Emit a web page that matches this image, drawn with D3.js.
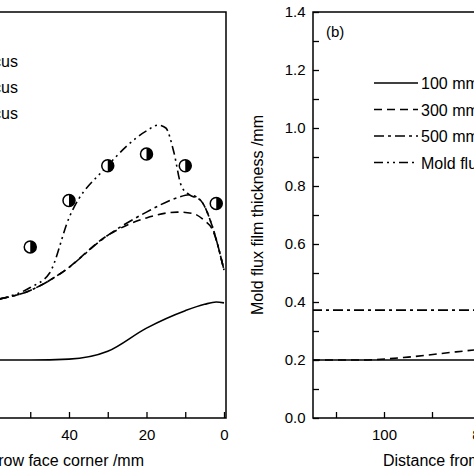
<!DOCTYPE html><html><head><script src="https://cdn.jsdelivr.net/npm/d3@7"></script>
<style>body{margin:0;background:#fff}text{font-family:Arial,"Liberation Sans",sans-serif}</style></head><body>
<script>
const legendLabels=["100 mm below meniscus","300 mm below meniscus","500 mm below meniscus","Mold flux rim"];
const yTicks=[0,0.2,0.4,0.6,0.8,1.0,1.2,1.4];
const leftTicks=[40,20,0];
const rightTicks=[100,80];
// panel (a) series [distance mm, thickness mm]
const a100=[[58,0.2],[50,0.2],[40,0.203],[30,0.23],[20,0.31],[10,0.37],[5,0.392],[2,0.4],[0,0.397]];
const a300=[[58,0.41],[50,0.44],[42,0.5],[30,0.63],[20,0.69],[12,0.71],[8,0.705],[5,0.68],[3,0.65],[0,0.51]];
const a500=[[58,0.41],[50,0.44],[42,0.5],[30,0.63],[20,0.71],[12,0.76],[9,0.77],[6,0.75],[3,0.66],[0,0.51]];
const aMold=[[58,0.41],[50,0.45],[45,0.5],[40,0.69],[30,0.87],[20,0.99],[17,1.01],[15,1.0],[13,0.92],[11,0.8],[9,0.77],[6,0.75],[3,0.66],[0,0.51]];
const aMeas=[[50,0.59],[40,0.75],[30,0.87],[20,0.91],[10,0.87],[2,0.74]];
// panel (b) series
const b100=[[115,0.2],[70,0.2]];
const b300=[[115,0.2],[105,0.2],[95,0.21],[85,0.228],[78,0.24]];
const b500=[[115,0.372],[70,0.372]];
const W=474,H=474;
const svg=d3.select("body").append("svg").attr("width",W).attr("height",H);
const T=12,B=418;
const y=d3.scaleLinear().domain([0,1.4]).range([B,T]);
const xa=d3.scaleLinear().domain([0,20]).range([224,146.5]);
const xb=d3.scaleLinear().domain([100,90]).range([384,432]);
const dash={s:null,d:"8,5",dd:"10,4,3,4",ddd:"9,4,2,4,2,4"};
const line=(x)=>d3.line().x(d=>x(d[0])).y(d=>y(d[1])).curve(d3.curveMonotoneX);
function lineSorted(x,data){return data.slice().sort((p,q)=>x(p[0])-x(q[0]));}
// panel a
const ga=svg.append("g");
ga.append("defs").append("clipPath").attr("id","ca").append("rect").attr("x",-5).attr("y",T).attr("width",231).attr("height",B-T);
const gac=ga.append("g").attr("clip-path","url(#ca)");
[[a100,dash.s],[a300,dash.d],[a500,dash.dd],[aMold,dash.ddd]].forEach(([d,da])=>{
 gac.append("path").attr("d",line(xa)(lineSorted(xa,d))).attr("fill","none").attr("stroke","#000").attr("stroke-width",1.6).attr("stroke-dasharray",da);});
aMeas.forEach(d=>{const cx=xa(d[0]),cy=y(d[1]),r=6;
 gac.append("circle").attr("cx",cx).attr("cy",cy).attr("r",r).attr("fill","#fff").attr("stroke","#000").attr("stroke-width",1.5);
 gac.append("path").attr("d",`M${cx},${cy-r}A${r},${r} 0 0 1 ${cx},${cy+r}Z`).attr("fill","#000");});
ga.append("path").attr("d",`M-5,${T}H226V${B}H-5`).attr("fill","none").attr("stroke","#000").attr("stroke-width",1.5);
const axA=d3.axisBottom(xa).tickValues(d3.range(0,61,10)).tickSize(-6).tickFormat(d=>leftTicks.includes(d)?d:"");
ga.append("g").attr("transform",`translate(0,${B})`).call(axA).call(g=>{g.select(".domain").remove();g.selectAll("line").attr("stroke-width",1.3);g.selectAll("text").attr("font-size",15).attr("dy","1.25em");});
ga.append("text").attr("x",144).attr("y",466).attr("text-anchor","end").attr("font-size",16).text("Distance from narrow face corner /mm");
legendLabels.slice(0,3).forEach((t,i)=>ga.append("text").attr("x",18).attr("y",67+i*26).attr("text-anchor","end").attr("font-size",16).text(t));
// panel b
const gb=svg.append("g");
gb.append("defs").append("clipPath").attr("id","cb").append("rect").attr("x",313).attr("y",T).attr("width",200).attr("height",B-T);
const gbc=gb.append("g").attr("clip-path","url(#cb)");
[[b100,dash.s],[b300,dash.d],[b500,dash.dd]].forEach(([d,da])=>{
 gbc.append("path").attr("d",line(xb)(lineSorted(xb,d))).attr("fill","none").attr("stroke","#000").attr("stroke-width",1.6).attr("stroke-dasharray",da);});
gb.append("path").attr("d",`M480,${T}H313V${B}H480`).attr("fill","none").attr("stroke","#000").attr("stroke-width",1.5);
const axBy=d3.axisLeft(y).tickValues(d3.range(0,1.41,0.1)).tickSize(-6).tickFormat(d=>yTicks.some(t=>Math.abs(t-d)<1e-6)?d3.format(".1f")(d):"");
gb.append("g").attr("transform","translate(313,0)").call(axBy).call(g=>{g.select(".domain").remove();g.selectAll("line").attr("stroke-width",1.3);g.selectAll("text").attr("font-size",15).attr("dx","-0.3em");});
const axBx=d3.axisBottom(xb).tickValues([110,100,90,80]).tickSize(-6).tickFormat(d=>rightTicks.includes(d)?d:"");
gb.append("g").attr("transform",`translate(0,${B})`).call(axBx).call(g=>{g.select(".domain").remove();g.selectAll("line").attr("stroke-width",1.3);g.selectAll("text").attr("font-size",15).attr("dy","1.25em");});
gb.append("text").attr("x",383).attr("y",466).attr("font-size",16).text("Distance from narrow face corner /mm");
gb.append("text").attr("transform","translate(263,215) rotate(-90)").attr("text-anchor","middle").attr("font-size",16).text("Mold flux film thickness /mm");
gb.append("text").attr("x",326).attr("y",37).attr("font-size",15).text("(b)");
[dash.s,dash.d,dash.dd,dash.ddd].forEach((da,i)=>{const yy=83+i*26.5;
 gb.append("line").attr("x1",374).attr("x2",418).attr("y1",yy).attr("y2",yy).attr("stroke","#000").attr("stroke-width",1.6).attr("stroke-dasharray",da);
 gb.append("text").attr("x",421).attr("y",yy+6).attr("font-size",16).text(legendLabels[i]);});
</script></body></html>
